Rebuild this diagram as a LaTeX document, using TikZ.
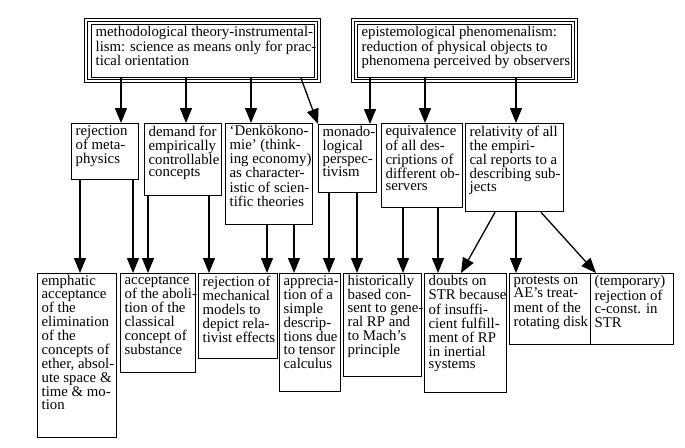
\documentclass[tikz,border=0pt]{standalone}
\usepackage{fontspec}
\setmainfont{Liberation Serif}
\usetikzlibrary{arrows.meta}
\tikzset{
  box/.style={draw, line width=1.3pt, inner sep=0pt, anchor=north west},
  frameline/.style={draw, line width=0.8pt},
  arr/.style={line width=1.3pt, -{Triangle[length=15pt,width=12pt]}},
}
% \bx{name}{x}{y}{w}{h}{lines}
\newcommand\bx[6]{%
  \node[box, minimum width=#4pt, minimum height=#5pt] (#1) at (#2,#3)
    {\parbox[t][#5pt][t]{#4pt}{\vspace{2pt}\hspace*{4pt}\begin{tabular}[t]{@{}l@{}}#6\end{tabular}}};}
\begin{document}
\begin{tikzpicture}[x=1pt,y=-1pt,font=\fontsize{14.8}{14.7}\selectfont]
\useasboundingbox (0,0) rectangle (685,447);
\renewcommand\arraystretch{0.85}

% top row with double frames
\draw[frameline] (84,18) rectangle (320,82);
\draw[frameline] (87,21) rectangle (317,79);
\bx{t1}{91}{24}{223}{53}{methodological theory-instrumental-\\lism: science as means only for prac-\\tical orientation}
\draw[frameline] (351,18) rectangle (577,82);
\draw[frameline] (354,21) rectangle (574,79);
\bx{t2}{357}{24}{214}{53}{epistemological phenomenalism:\\reduction of physical objects to\\phenomena perceived by observers}

% middle row
\bx{m1}{71}{123}{67}{56}{rejection\\of meta-\\physics}
\bx{m2}{144}{123}{77}{72}{demand for\\empirically\\controllable\\concepts}
\bx{m3}{225}{123}{87}{101}{`Denkökono-\\mie' (think-\\ing economy)\\as character-\\istic of scien-\\tific theories}
\bx{m4}{318}{124}{58}{68}{monado-\\logical\\perspec-\\tivism}
\bx{m5}{381}{123}{81}{84}{equivalence\\of all des-\\criptions of\\different ob-\\servers}
\bx{m6}{465}{123}{98}{88}{relativity of all\\the empiri-\\cal reports to a\\describing sub-\\jects}

% bottom row
\bx{b1}{37}{273}{79}{164}{emphatic\\acceptance\\of the\\elimination\\of the\\concepts of\\ether, absol-\\ute space \&\\time \& mo-\\tion}
\bx{b2}{120}{273}{75}{99}{acceptance\\of the aboli-\\tion of the\\classical\\concept of\\substance}
\bx{b3}{198}{273}{79}{85}{rejection of\\mechanical\\models to\\depict rela-\\tivist effects}
\bx{b4}{279}{273}{61}{118}{apprecia-\\tion of a\\simple\\descrip-\\tions due\\to tensor\\calculus}
\bx{b5}{343}{273}{78}{103}{historically\\based con-\\sent to gene-\\ral RP and\\to Mach's\\principle}
\bx{b6}{424}{273}{82}{119}{doubts on\\STR because\\of insuffi-\\cient fulfill-\\ment of RP\\in inertial\\systems}
\bx{b7}{509}{273}{81}{71}{protests on\\AE's treat-\\ment of the\\rotating disk}
\bx{b8}{590}{273}{83}{71}{(temporary)\\rejection of\\c-const. in\\STR}

% x positions of vertical connectors
\foreach \x in {121,186,251,301,370,425,516,80,133,148,209,267,294,329,357,403,438,495,541}
  \coordinate (x\x) at (\x,0);

% top to middle
\draw[arr] (t1.south -| x121) -- (m1.north -| x121);
\draw[arr] (t1.south -| x186) -- (m2.north -| x186);
\draw[arr] (t1.south -| x251) -- (m3.north -| x251);
\draw[arr] (t1.south -| x301) -- (m4.north west);
\draw[arr] (t2.south -| x370) -- (m4.north -| x370);
\draw[arr] (t2.south -| x425) -- (m5.north -| x425);
\draw[arr] (t2.south -| x516) -- (m6.north -| x516);

% middle to bottom
\draw[arr] (m1.south -| x80) -- (b1.north -| x80);
\draw[arr] (m1.south -| x133) -- (b2.north -| x133);
\draw[arr] (m2.south -| x148) -- (b2.north -| x148);
\draw[arr] (m2.south -| x209) -- (b3.north -| x209);
\draw[arr] (m3.south -| x267) -- (b3.north -| x267);
\draw[arr] (m3.south -| x294) -- (b4.north -| x294);
\draw[arr] (m4.south -| x329) -- (b4.north -| x329);
\draw[arr] (m4.south -| x357) -- (b5.north -| x357);
\draw[arr] (m5.south -| x403) -- (b5.north -| x403);
\draw[arr] (m5.south -| x438) -- (b6.north -| x438);
\coordinate (d6) at (461,273);
\coordinate (d8) at (596,273);
\draw[arr] (m6.south -| x495) -- (d6);
\draw[arr] (m6.south -| x516) -- (b7.north -| x516);
\draw[arr] (m6.south -| x541) -- (d8);
\end{tikzpicture}
\end{document}
